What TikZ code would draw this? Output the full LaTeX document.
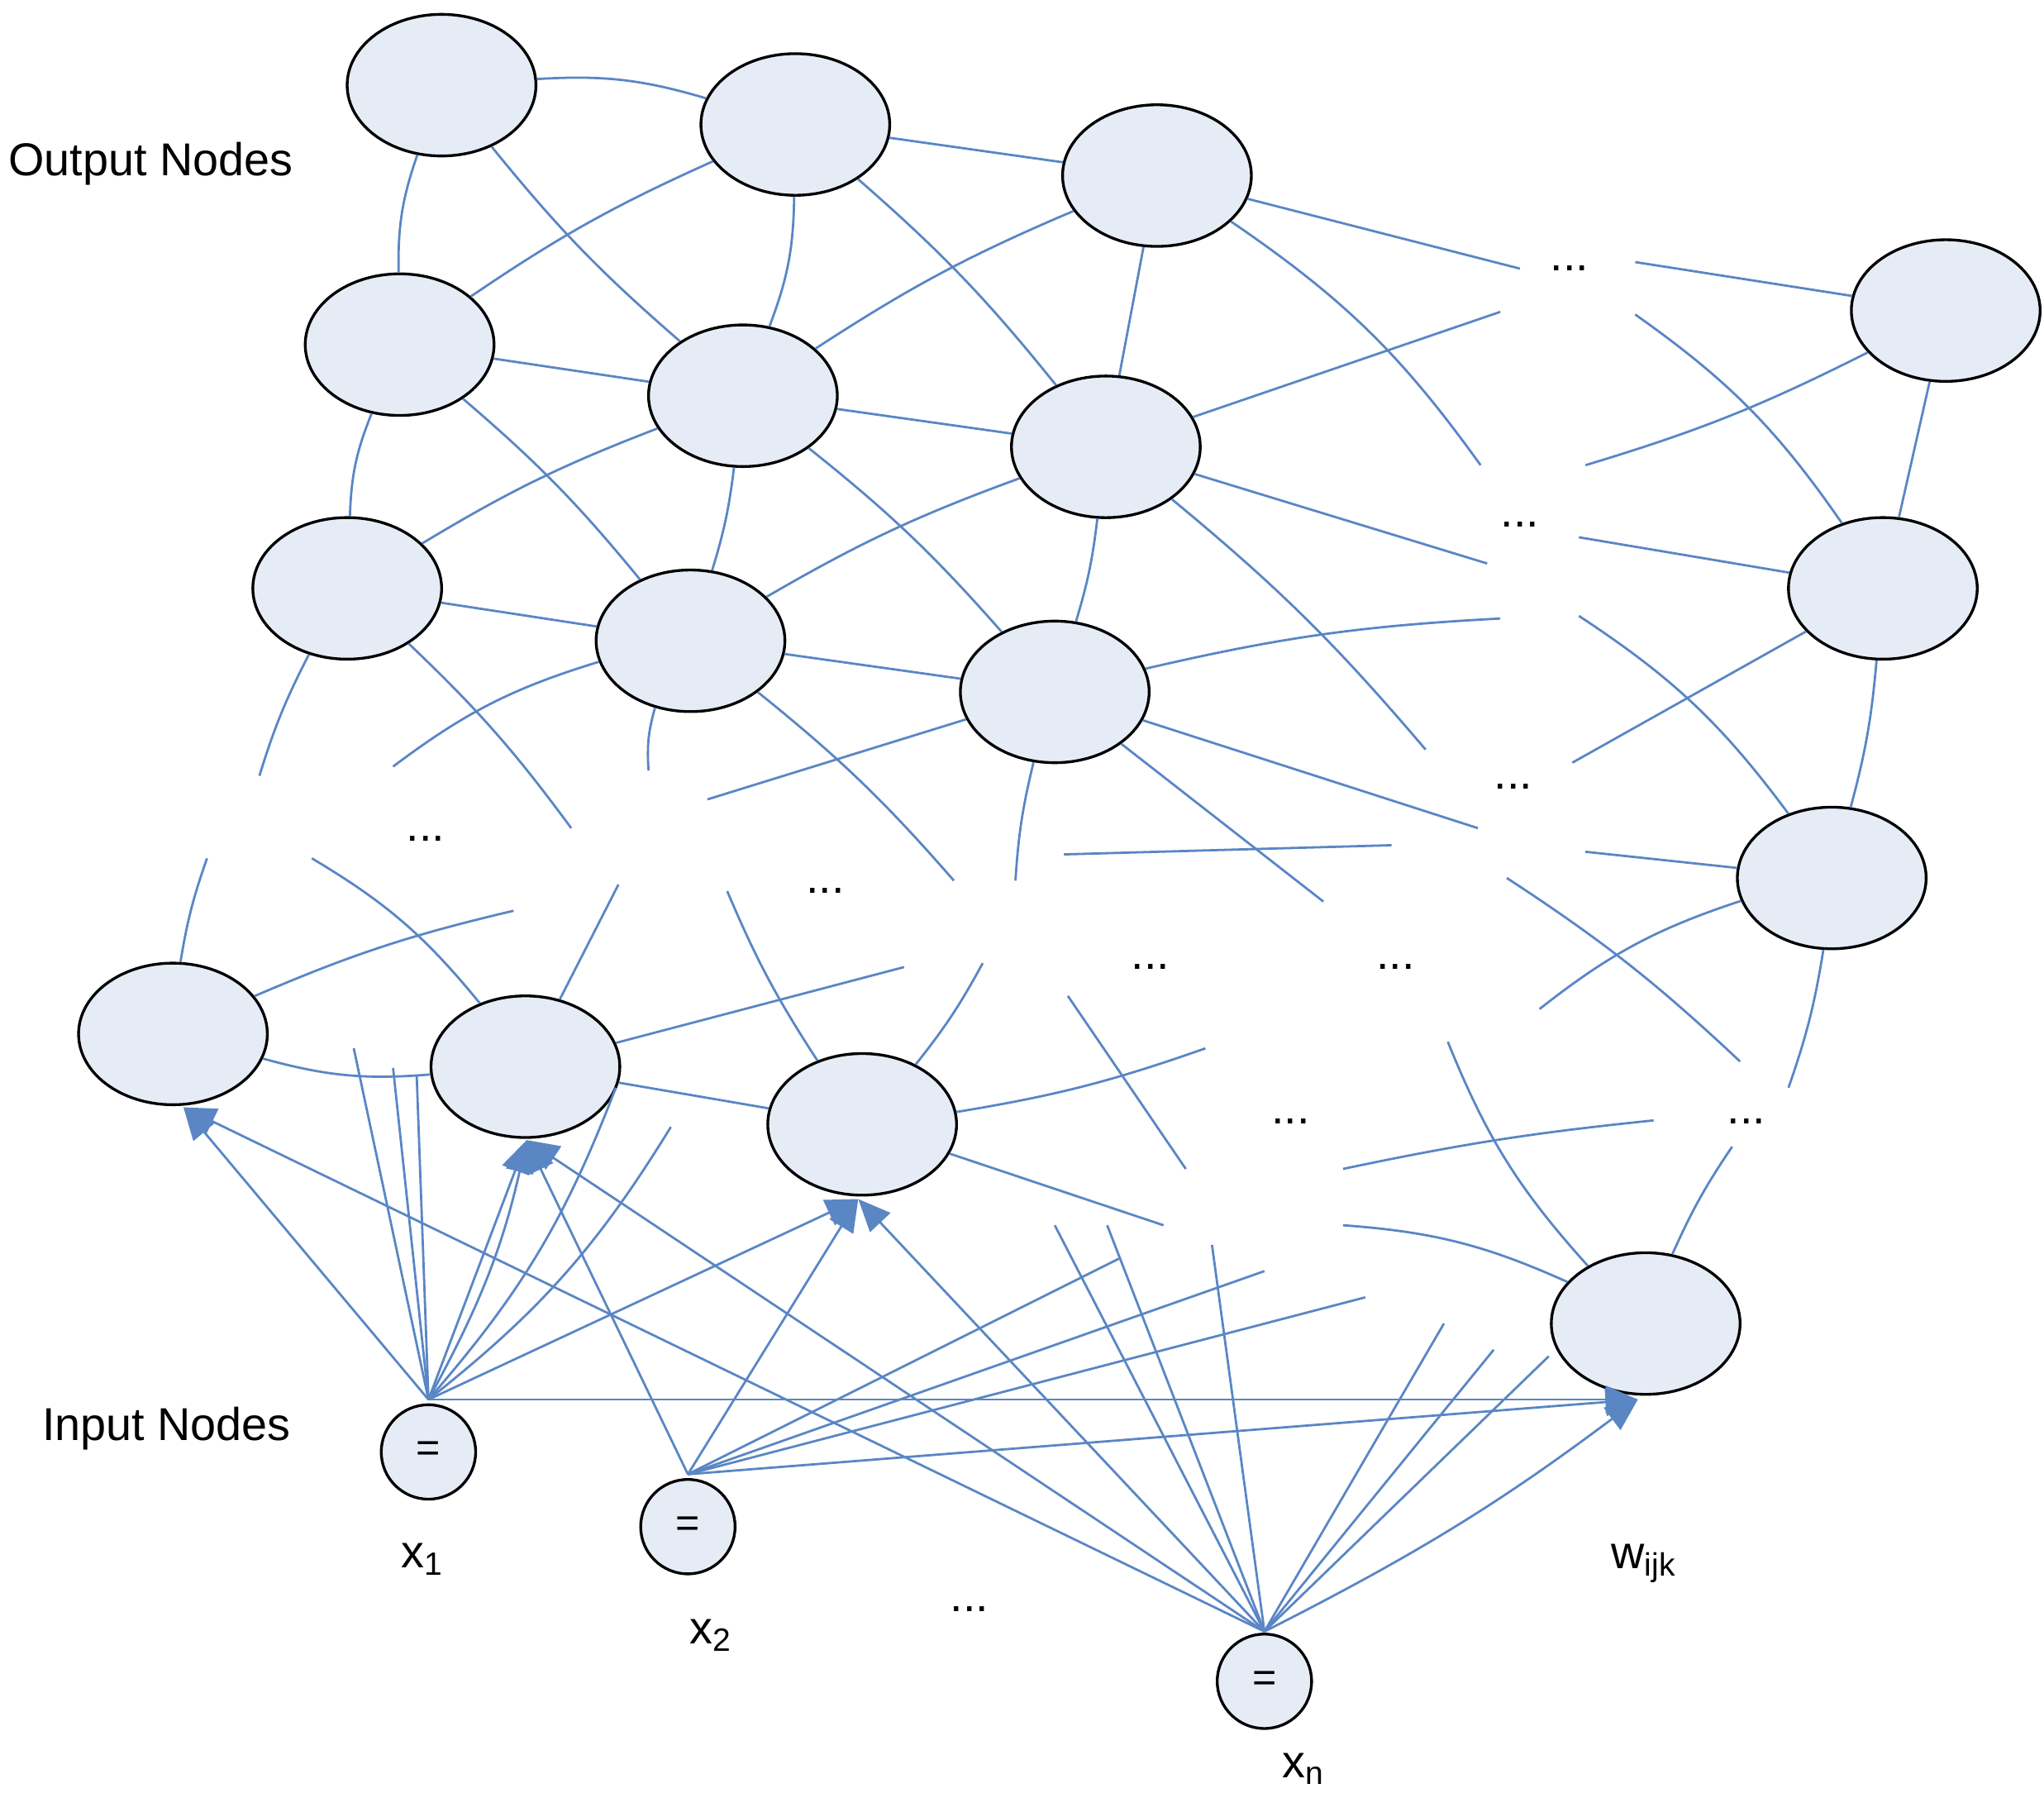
\documentclass[tikz,border=0pt]{standalone}
\usepackage{fontspec}
\setmainfont{Liberation Sans}
\usetikzlibrary{arrows.meta, shapes.geometric, positioning}
\definecolor{nodefill}{HTML}{E6ECF6}
\definecolor{linkblue}{HTML}{5A86C4}

\begin{document}
\begin{tikzpicture}[x=0.01cm, y=-0.01cm, font=\fontsize{10}{12}\selectfont,
    neuron/.style={ellipse, draw=black, semithick, fill=nodefill, minimum width=1.44cm, minimum height=1.08cm, inner sep=0pt},
    inode/.style={circle, draw=black, semithick, fill=nodefill, minimum size=0.72cm, inner sep=0pt, font=\fontsize{9}{10}\selectfont},
    link/.style={draw=linkblue, line width=0.5pt},
    feed/.style={link, -{Triangle[length=7pt, width=6pt]}}]

\useasboundingbox (0,0) rectangle (1560,1368);

% grid of nodes
\node[neuron] (A1) at (337,65) {};
\node[neuron] (A2) at (607,95) {};
\node[neuron] (A3) at (883,134) {};
\node[neuron] (A4) at (1485,237) {};
\node[neuron] (B1) at (305,263) {};
\node[neuron] (B2) at (567,302) {};
\node[neuron] (B3) at (844,341) {};
\node[neuron] (B4) at (1437,449) {};
\node[neuron] (C1) at (265,449) {};
\node[neuron] (C2) at (527,489) {};
\node[neuron] (C3) at (805,528) {};
\node[neuron] (C4) at (1398,670) {};
\node[neuron] (D1) at (132,789) {};
\node[neuron] (D2) at (401,814) {};
\node[neuron] (D3) at (658,858) {};
\node[neuron] (D4) at (1256,1010) {};

% input nodes
\node[inode] (X1) at (327,1108) {=};
\node[inode] (X2) at (525,1165) {=};
\node[inode] (Xn) at (965,1283) {=};

% where the arrows meet
\coordinate (tD1) at (140,845);
\coordinate (tD2) at (402,870);
\coordinate (tD3) at (655,915);
\coordinate (tD4) at (1250,1068);
\coordinate (s1) at (327,1068);
\coordinate (s2) at (525,1125);
\coordinate (sn) at (965,1245);

% labels
\node (lout) at (115,125) {Output Nodes};
\node (lin) at (127,1090) {Input Nodes};
\node (l1) at (323,1190) {x\textsubscript{1}};
\node (l2) at (543,1248) {x\textsubscript{2}};
\node (ln) at (995,1350) {x\textsubscript{n}};
\node (lw) at (1255,1193) {w\textsubscript{ijk}};
\foreach \p in {(740,1228),(1198,205),(1160,400),(1155,600),(325,640),(630,680),(878,738),(1065,738),(985,856),(1333,856)}
  \node at \p {...};

% links between nodes
\path[link]
  (A1) edge[bend left=10] (A2)
  (A2) edge (A3)
  (A1) edge[bend right=10] (B1)
  (A1) edge[bend right=5] (B2)
  (A2) edge[bend right=5] (B1)
  (A2) edge[bend left=10] (B2)
  (A2) edge[bend left=5] (B3)
  (A3) edge[bend right=5] (B2)
  (A3) edge (B3)
  (B1) edge (B2)
  (B1) edge[bend right=10] (C1)
  (B1) edge[bend left=5] (C2)
  (B2) edge[bend right=5] (C1)
  (B2) edge[bend left=5] (C2)
  (B2) edge (B3)
  (B2) edge[bend left=5] (C3)
  (B3) edge[bend right=5] (C2)
  (B3) edge[bend left=5] (C3)
  (C1) edge (C2)
  (C2) edge (C3)
  (A4) edge (B4)
  (B4) edge[bend left=5] (C4)
  (D1) edge[bend right=10] (D2)
  (D2) edge (D3);

% links that fade out
\draw[link] (A3) -- (1160,205);
\draw[link] (1248,200) -- (A4);
\draw[link] (A3) to[bend left=10] (1130,355);
\draw[link] (B3) -- (1145,238);
\draw[link] (1210,355) to[bend right=5] (A4);
\draw[link] (B3) -- (1135,430);
\draw[link] (1205,410) -- (B4);
\draw[link] (B3) to[bend left=5] (1088,572);
\draw[link] (1248,240) to[bend left=10] (B4);
\draw[link] (C3) to[bend left=5] (1145,472);
\draw[link] (1200,582) -- (B4);
\draw[link] (C3) -- (1128,632);
\draw[link] (1205,470) to[bend left=10] (C4);
\draw[link] (C3) -- (1010,688);
\draw[link] (1210,650) -- (C4);
\draw[link] (C4) to[bend left=5] (1365,830);
\draw[link] (1175,770) to[bend left=10] (C4);
\draw[link] (1150,670) to[bend left=5] (1328,810);
\draw[link] (1105,795) to[bend right=10] (D4);
\draw[link] (1322,875) to[bend right=5] (D4);
\draw[link] (1025,935) to[bend left=10] (D4);
\draw[link] (1025,892) to[bend left=3] (1262,855);
\draw[link] (C1) to[bend right=5] (198,592);
\draw[link] (158,655) to[bend right=5] (D1);
\draw[link] (C2) to[bend right=10] (300,585);
\draw[link] (C1) to[bend left=5] (436,632);
\draw[link] (238,655) to[bend left=10] (D2);
\draw[link] (D1) to[bend left=5] (392,695);
\draw[link] (C2) to[bend right=10] (495,588);
\draw[link] (472,675) -- (D2);
\draw[link] (C3) -- (540,610);
\draw[link] (C2) to[bend left=5] (728,672);
\draw[link] (555,680) to[bend right=5] (D3);
\draw[link] (D2) -- (690,738);
\draw[link] (C3) to[bend right=5] (775,672);
\draw[link] (750,735) to[bend left=5] (D3);
\draw[link] (D3) to[bend right=5] (920,800);
\draw[link] (D3) -- (888,935);
\draw[link] (815,760) -- (905,892);
\draw[link] (812,652) -- (1062,645);

% input connections
\draw[feed] (s1) -- (tD1);
\draw[feed] (s1) -- (tD2);
\draw[feed] (s1) to[bend right=8] (tD2);
\draw[feed] (s1) -- (tD3);
\draw[feed] (s1) -- (tD4);
\draw[feed] (s2) -- (tD2);
\draw[feed] (s2) -- (tD3);
\draw[feed] (s2) -- (tD4);
\draw[feed] (sn) -- (tD1);
\draw[feed] (sn) -- (tD2);
\draw[feed] (sn) -- (tD3);
\draw[feed] (sn) to[bend right=5] (tD4);
\draw[link] (s1) -- (270,800);
\draw[link] (s1) -- (300,815);
\draw[link] (s1) -- (318,820);
\draw[link] (s1) to[bend right=10] (470,830);
\draw[link] (s1) to[bend right=10] (512,860);
\draw[link] (s2) -- (855,960);
\draw[link] (s2) -- (965,970);
\draw[link] (s2) -- (1042,990);
\draw[link] (sn) -- (805,935);
\draw[link] (sn) -- (845,935);
\draw[link] (sn) -- (925,950);
\draw[link] (sn) -- (1102,1010);
\draw[link] (sn) -- (1140,1030);
\draw[link] (sn) -- (1182,1035);

\end{tikzpicture}
\end{document}
